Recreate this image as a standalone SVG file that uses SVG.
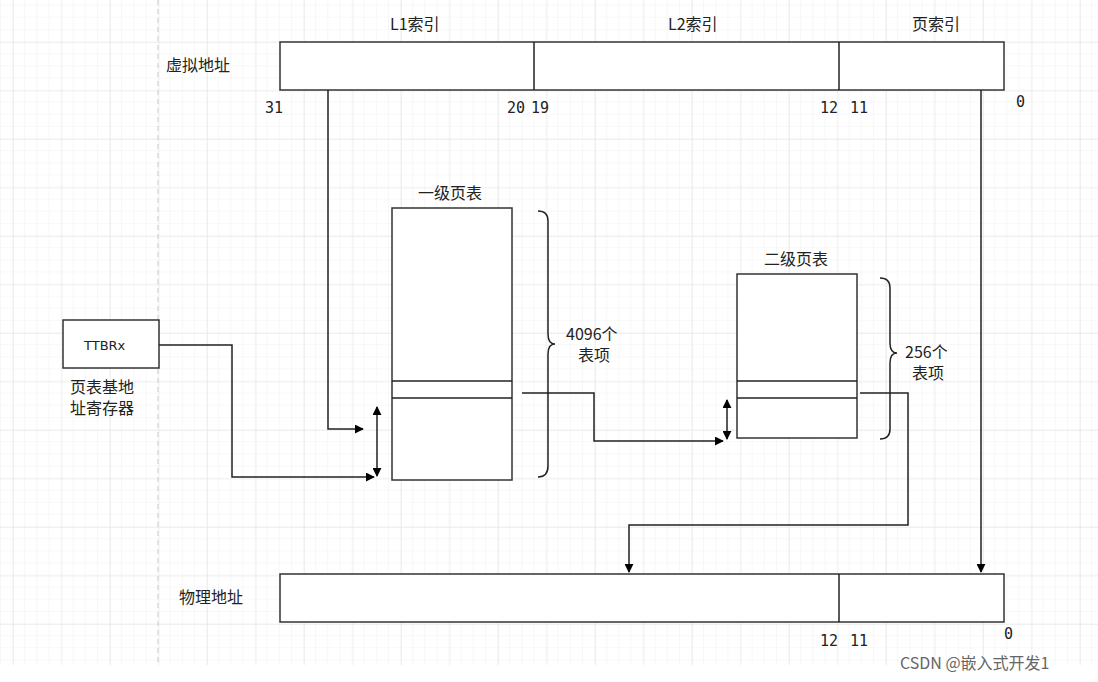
<svg xmlns="http://www.w3.org/2000/svg" width="1098" height="682" viewBox="0 0 1098 682">
<defs>
<pattern id="minor" x="13" y="42" width="12.125" height="12.125" patternUnits="userSpaceOnUse"><path d="M12.125 0V12.125H0" fill="none" stroke="#f1f1f1" stroke-width="1"/></pattern>
<pattern id="major" x="13" y="42" width="48.5" height="48.5" patternUnits="userSpaceOnUse"><path d="M0 0V48.5M0 0H48.5" fill="none" stroke="#e2e2e2" stroke-width="1"/></pattern>
<marker id="a" viewBox="0 0 10 10" refX="9" refY="5" markerWidth="9" markerHeight="9" markerUnits="userSpaceOnUse" orient="auto-start-reverse"><path d="M0 0L10 5L0 10z" fill="#000"/></marker>
</defs>
<style>
.b{fill:#fff;stroke:#333;stroke-width:1.5}
.l{fill:none;stroke:#222;stroke-width:1.5}
text{font-family:"Noto Sans CJK SC","Noto Sans",sans-serif;font-size:16px;fill:#222}
.n{font-family:"DejaVu Sans Mono",monospace;font-size:15px}
</style>
<rect width="1098" height="682" fill="#fff"/>
<rect width="1098" height="665" fill="url(#minor)"/>
<rect width="1098" height="665" fill="url(#major)"/>
<line x1="158" y1="0" x2="158" y2="665" stroke="#ccc" stroke-dasharray="5 4"/>
<g id="va">
<rect class="b" x="280" y="42" width="724" height="48"/>
<line class="l" x1="534" y1="42" x2="534" y2="90"/><line class="l" x1="839" y1="42" x2="839" y2="90"/>
<text x="166" y="71">虚拟地址</text>
<text x="390" y="30">L1索引</text><text x="668" y="30">L2索引</text><text x="912" y="30">页索引</text>
<text class="n" x="265" y="113">31</text><text class="n" x="507" y="113">20</text><text class="n" x="531" y="113">19</text>
<text class="n" x="820" y="113">12</text><text class="n" x="850" y="113">11</text><text class="n" x="1016" y="107">0</text>
</g>
<g id="pa">
<rect class="b" x="280" y="574" width="724" height="48"/>
<line class="l" x1="839" y1="574" x2="839" y2="622"/>
<text x="179" y="603">物理地址</text>
<text class="n" x="820" y="646">12</text><text class="n" x="850" y="646">11</text><text class="n" x="1004" y="639">0</text>
</g>
<g id="ttbr">
<rect class="b" x="63" y="320" width="96" height="48"/>
<text x="84" y="350" style="font-family:'DejaVu Sans',sans-serif;font-size:13px">TTBRx</text>
<text x="70" y="393">页表基地</text><text x="70" y="414">址寄存器</text>
</g>
<g id="l1">
<rect class="b" x="392" y="208" width="120" height="272"/>
<line class="l" x1="392" y1="381" x2="512" y2="381"/><line class="l" x1="392" y1="398" x2="512" y2="398"/>
<text x="418" y="199">一级页表</text>
<path class="l" d="M538 211Q548 211 548 221V334Q548 344 555 344Q548 344 548 354V466Q548 477 538 477"/>
<text x="566" y="340">4096个</text><text x="578" y="361">表项</text>
</g>
<g id="l2">
<rect class="b" x="737" y="274" width="120" height="164"/>
<line class="l" x1="737" y1="381" x2="857" y2="381"/><line class="l" x1="737" y1="398" x2="857" y2="398"/>
<text x="764" y="265">二级页表</text>
<path class="l" d="M880 278Q890 278 890 288V343Q890 353 897 353Q890 353 890 363V429Q890 439 880 439"/>
<text x="905" y="358">256个</text><text x="912" y="379">表项</text>
</g>
<g id="connectors">
<path class="l" d="M328 90V429H363" marker-end="url(#a)"/>
<path class="l" d="M159 345H232V477H374" marker-end="url(#a)"/>
<line class="l" x1="377" y1="407" x2="377" y2="476" marker-start="url(#a)" marker-end="url(#a)"/>
<path class="l" d="M522 393H594V441H723" marker-end="url(#a)"/>
<line class="l" x1="727" y1="400" x2="727" y2="439" marker-start="url(#a)" marker-end="url(#a)"/>
<path class="l" d="M860 393H908V525H629V572" marker-end="url(#a)"/>
<path class="l" d="M981 90V572" marker-end="url(#a)"/>
</g>
<text x="900" y="669" style="font-size:16px;fill:#666">CSDN @嵌入式开发1</text>
</svg>
